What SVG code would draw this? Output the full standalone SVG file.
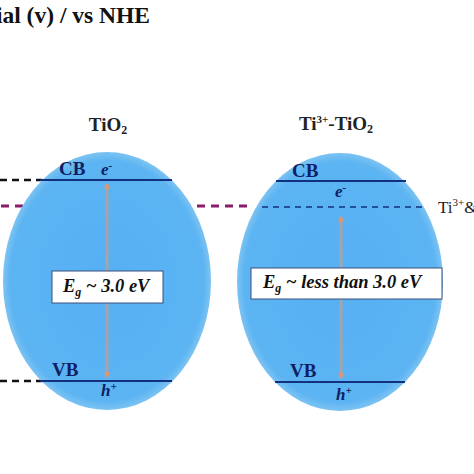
<svg xmlns="http://www.w3.org/2000/svg" width="474" height="474" viewBox="0 0 474 474">
<defs>
<marker id="head" viewBox="0 0 10 10" refX="8" refY="5" markerWidth="6" markerHeight="6" markerUnits="userSpaceOnUse" orient="auto-start-reverse">
<path d="M0,0 L10,5 L0,10 z" fill="#e8946a"/>
</marker>
<radialGradient id="blob" cx="50%" cy="50%" r="50%">
<stop offset="0" stop-color="#55b0f3"/>
<stop offset="0.93" stop-color="#5cb4f2"/>
<stop offset="1" stop-color="#7cc3f2"/>
</radialGradient>
</defs>
<style>
.t{font-family:"Liberation Serif","Times New Roman",serif;}
.band{font-family:"Liberation Serif",serif;font-weight:bold;font-size:19px;fill:#0e1f63;}
.carrier{font-family:"Liberation Serif",serif;font-weight:bold;font-style:italic;font-size:17px;fill:#0e1f63;}
.level{stroke:#12307e;stroke-width:2;}
.eg{font-family:"Liberation Serif",serif;font-weight:bold;font-style:italic;font-size:18.5px;fill:#111;}
.box{fill:#fff;stroke:#3a4f7a;stroke-width:1;}
.arrow{stroke:#a8a2aa;stroke-width:3;marker-start:url(#head);marker-end:url(#head);}
</style>
<rect width="474" height="474" fill="#fff"/>
<text class="t" x="150" y="23" text-anchor="end" font-size="23.5" font-weight="bold" fill="#111">ial (v) / vs NHE</text>
<g id="connectors">
<line x1="0" y1="180" x2="42" y2="180" stroke="#111" stroke-width="2.5" stroke-dasharray="7,5"/>
<line x1="0" y1="381" x2="42" y2="381" stroke="#111" stroke-width="2.5" stroke-dasharray="7,5"/>
<line x1="1" y1="206" x2="252" y2="206" stroke="#8b1c6c" stroke-width="3" stroke-dasharray="8,6"/>
</g>
<g id="tio2">
<text class="t" x="108" y="131" text-anchor="middle" font-size="19" font-weight="bold" fill="#222">TiO<tspan font-size="12" dy="3">2</tspan></text>
<ellipse cx="107" cy="281" rx="104" ry="129" fill="url(#blob)"/>
<line class="level" x1="40" y1="180" x2="172" y2="180"/>
<line class="level" x1="40" y1="381" x2="172" y2="381"/>
<text class="band" x="59" y="175">CB</text>
<text class="band" x="52" y="376">VB</text>
<text class="carrier" x="101" y="175">e<tspan font-size="11" dy="-6">-</tspan></text>
<text class="carrier" x="101" y="396">h<tspan font-size="11" dy="-6">+</tspan></text>
<line class="arrow" x1="107" y1="184" x2="107" y2="377"/>
<rect class="box" x="52" y="271" width="111" height="32"/>
<text class="eg" x="63" y="292">E<tspan font-size="12" dy="4">g</tspan><tspan dy="-4"> ~ 3.0 eV</tspan></text>
</g>
<g id="ti3-tio2">
<text class="t" x="336" y="130" text-anchor="middle" font-size="19" font-weight="bold" fill="#222">Ti<tspan font-size="11" dy="-7">3+</tspan><tspan dy="7">-TiO</tspan><tspan font-size="12" dy="3">2</tspan></text>
<ellipse cx="340" cy="282" rx="103" ry="129" fill="url(#blob)"/>
<line class="level" x1="276" y1="181" x2="406" y2="181"/>
<line class="level" x1="275" y1="382" x2="405" y2="382"/>
<line x1="262" y1="207" x2="424" y2="207" stroke="#12307e" stroke-width="1.5" stroke-dasharray="6,5"/>
<text class="band" x="292" y="177">CB</text>
<text class="band" x="290" y="377">VB</text>
<text class="carrier" x="335" y="197">e<tspan font-size="11" dy="-6">-</tspan></text>
<text class="carrier" x="336" y="400">h<tspan font-size="11" dy="-6">+</tspan></text>
<line class="arrow" x1="341" y1="217" x2="341" y2="378"/>
<rect class="box" x="251" y="268" width="191" height="31"/>
<text class="eg" x="263" y="288">E<tspan font-size="12" dy="4">g</tspan><tspan dy="-4"> ~ less than 3.0 eV</tspan></text>
<text class="t" x="438" y="213" font-size="17" fill="#222">Ti<tspan font-size="11" dy="-7">3+</tspan><tspan dy="7">&amp;</tspan></text>
</g>
</svg>
